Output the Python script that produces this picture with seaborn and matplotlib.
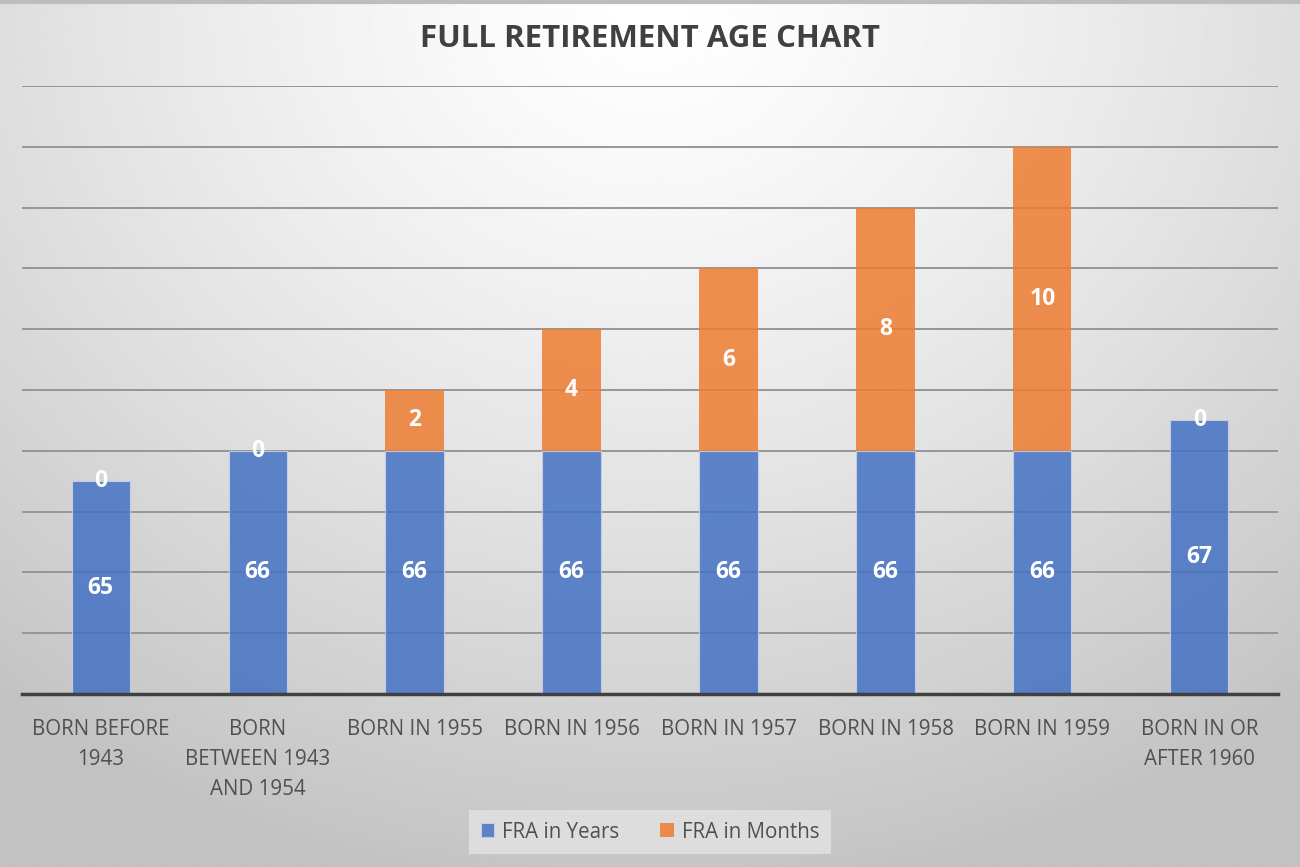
import matplotlib
matplotlib.use("Agg")
import matplotlib.pyplot as plt
import seaborn as sns
import numpy as np
import pandas as pd

# datos del gráfico
categorias = ["BORN BEFORE\n1943", "BORN\nBETWEEN 1943\nAND 1954", "BORN IN 1955",
              "BORN IN 1956", "BORN IN 1957", "BORN IN 1958", "BORN IN 1959",
              "BORN IN OR\nAFTER 1960"]
fra_years = [65, 66, 66, 66, 66, 66, 66, 67]
fra_months = [0, 0, 2, 4, 6, 8, 10, 0]
y_min, y_max, y_step = 58, 78, 2

sns.set_theme(style="white")
plt.rcParams['font.family'] = ['Open Sans', 'DejaVu Sans']

df = pd.DataFrame({"cat": categorias, "years": fra_years, "months": fra_months})

fig = plt.figure(figsize=(13, 8.67), dpi=100)

# fondo degradado radial
bg = fig.add_axes([0, 0, 1, 1], zorder=-10)
yy, xx = np.mgrid[0:1:300j, 0:1:450j]
dist = np.sqrt(((xx - 0.5) * 1.3) ** 2 + (yy * 1.0) ** 2)
shade = 1.0 - 0.24 * np.clip(dist / 1.05, 0, 1) ** 1.3
bg.imshow(shade, cmap="gray", vmin=0, vmax=1, aspect="auto", extent=[0, 1, 1, 0])
bg.set_xlim(0, 1)
bg.set_ylim(1, 0)
bg.axhline(0.002, color="#bdbdbd", lw=3)
bg.axis("off")

ax = fig.add_axes([0.017, 0.1995, 0.966, 0.7013])
ax.patch.set_alpha(0)

azul = "#4472C4"
naranja = "#ED7D31"

sns.barplot(data=df, x="cat", y="years", color=azul, alpha=0.85, width=0.37,
            saturation=1, ax=ax, edgecolor="#c9d3ea", linewidth=0.8,
            label="FRA in Years", zorder=3)
sns.barplot(data=df, x="cat", y="months", color=naranja, alpha=0.85, width=0.37,
            saturation=1, ax=ax, bottom=df["years"], linewidth=0,
            label="FRA in Months", zorder=3)

ax.set_ylim(y_min, y_max)
ax.set_yticks(np.arange(y_min, y_max + 1, y_step))
ax.set_yticklabels([])
ax.tick_params(axis="y", length=0)
ax.grid(axis="y", color="#969696", lw=1.4, zorder=0)
ax.set_axisbelow(True)
for s in ["top", "right", "left"]:
    ax.spines[s].set_visible(False)
ax.spines["bottom"].set_color("#404040")
ax.spines["bottom"].set_linewidth(2.5)
ax.spines["bottom"].set_zorder(5)
ax.set_xlabel("")
ax.set_ylabel("")
ax.tick_params(axis="x", length=0, pad=18, labelsize=14.8, labelcolor="#505050")
for t in ax.get_xticklabels():
    t.set_linespacing(1.55)

# etiquetas de datos
for i, (yv, mv) in enumerate(zip(fra_years, fra_months)):
    ax.text(i, (y_min + yv) / 2, f"{yv}", ha="center", va="center", color="white",
            fontsize=16.5, fontweight="bold", zorder=6)
    ax.text(i, yv + mv / 2, f"{mv}", ha="center", va="center", color="white",
            fontsize=16.5, fontweight="bold", zorder=6)

fig.text(0.5, 0.955, "FULL RETIREMENT AGE CHART", ha="center", va="center",
         fontsize=22.5, fontweight="bold", color="#404040")

handles, labels = ax.get_legend_handles_labels()
if ax.legend_:
    ax.legend_.remove()
leg = fig.legend(handles, labels, loc="center", bbox_to_anchor=(0.5, 1 - 832 / 867),
                 ncol=2, frameon=True, fontsize=14.8, handlelength=0.65,
                 handleheight=0.65, columnspacing=2.0, handletextpad=0.4,
                 borderpad=0.55, borderaxespad=0, fancybox=False)
leg.get_frame().set_facecolor("#e3e3e3")
leg.get_frame().set_edgecolor("none")
leg._legend_box.sep = 8
for t in leg.get_texts():
    t.set_color("#505050")

plt.savefig("out.png", dpi=100)
